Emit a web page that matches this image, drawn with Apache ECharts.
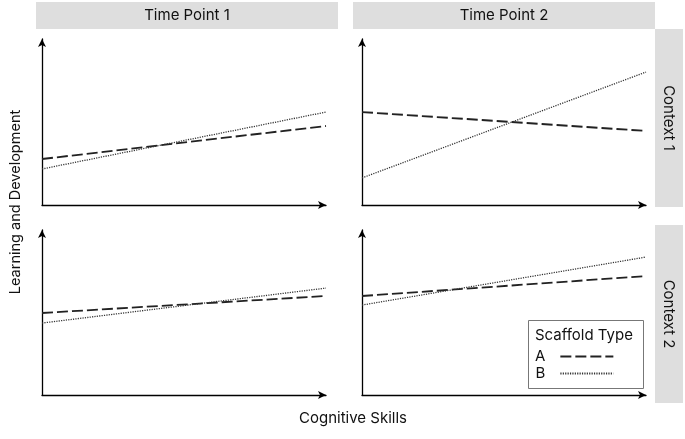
<!DOCTYPE html>
<html>
<head>
<meta charset="utf-8">
<script src="https://cdn.jsdelivr.net/npm/echarts@6/dist/echarts.min.js"></script>
<style>html,body{margin:0;padding:0;background:#fff}#c{width:685px;height:439px}</style>
</head>
<body>
<div id="c"></div>
<script>
// x positions of the line ends (Cognitive Skills, relative scale)
const xEnds = [0, 10];
// Panels: [Time Point 1 / Context 1, Time Point 2 / Context 1, Time Point 1 / Context 2, Time Point 2 / Context 2]
const seriesA = [[2.77, 4.76], [5.60, 4.46], [4.97, 6.00], [6.00, 7.21]];
const seriesB = [[2.17, 5.60], [1.63, 8.01], [4.36, 6.48], [5.45, 8.36]];
const timeLabels = ['Time Point 1', 'Time Point 2'];
const contextLabels = ['Context 1', 'Context 2'];
const legendTitle = 'Scaffold Type';
const xTitle = 'Cognitive Skills';
const yTitle = 'Learning and Development';

const FONT = 'Inter';
const grids = [
  {left: 42, top: 39, width: 284, height: 166},
  {left: 362, top: 39, width: 284, height: 166},
  {left: 42, top: 230, width: 284, height: 165},
  {left: 362, top: 230, width: 284, height: 165}
];
const axisLine = {show: true, symbol: ['none', 'arrow'], symbolSize: [6, 8], lineStyle: {color: '#000', width: 1.3}};
const xAxes = grids.map((g, i) => ({type: 'value', gridIndex: i, min: 0, max: 10, axisLine, axisTick: {show: false}, axisLabel: {show: false}, splitLine: {show: false}}));
const yAxes = grids.map((g, i) => ({type: 'value', gridIndex: i, min: 0, max: 10, axisLine, axisTick: {show: false}, axisLabel: {show: false}, splitLine: {show: false}}));
const series = [];
for (let i = 0; i < 4; i++) {
  series.push({name: 'A', type: 'line', xAxisIndex: i, yAxisIndex: i, symbol: 'none', silent: true,
    data: xEnds.map((x, k) => [x, seriesA[i][k]]),
    itemStyle: {color: '#222'},
    lineStyle: {color: '#222', width: 1.8, type: [11, 4]}});
  series.push({name: 'B', type: 'line', xAxisIndex: i, yAxisIndex: i, symbol: 'none', silent: true,
    data: xEnds.map((x, k) => [x, seriesB[i][k]]),
    itemStyle: {color: '#333'},
    lineStyle: {color: '#333', width: 1.3, type: [1.2, 1.2]}});
}
const strip = '#dedede';
const graphic = [
  {type: 'rect', shape: {x: 36, y: 2, width: 302, height: 27}, style: {fill: strip}},
  {type: 'rect', shape: {x: 353, y: 2, width: 302, height: 27}, style: {fill: strip}},
  {type: 'rect', shape: {x: 655, y: 29, width: 28, height: 178}, style: {fill: strip}},
  {type: 'rect', shape: {x: 655, y: 225, width: 28, height: 178}, style: {fill: strip}},
  {type: 'text', x: 187, y: 15.5, style: {text: timeLabels[0], font: '15px ' + FONT, fill: '#111', align: 'center', verticalAlign: 'middle'}},
  {type: 'text', x: 504, y: 15.5, style: {text: timeLabels[1], font: '15px ' + FONT, fill: '#111', align: 'center', verticalAlign: 'middle'}},
  {type: 'text', x: 669, y: 118, rotation: -Math.PI / 2, style: {text: contextLabels[0], font: '15px ' + FONT, fill: '#111', align: 'center', verticalAlign: 'middle'}},
  {type: 'text', x: 669, y: 314, rotation: -Math.PI / 2, style: {text: contextLabels[1], font: '15px ' + FONT, fill: '#111', align: 'center', verticalAlign: 'middle'}},
  {type: 'text', x: 16, y: 202, rotation: Math.PI / 2, style: {text: yTitle, font: '14.5px ' + FONT, fill: '#111', align: 'center', verticalAlign: 'middle'}},
  {type: 'text', x: 353, y: 418, style: {text: xTitle, font: '15px ' + FONT, fill: '#111', align: 'center', verticalAlign: 'middle'}},
  {type: 'rect', z: 5, shape: {x: 528.5, y: 320.5, width: 115, height: 68}, style: {fill: '#fff', stroke: '#777', lineWidth: 1}},
  {type: 'text', z: 6, x: 535, y: 335, style: {text: legendTitle, font: '15px ' + FONT, fill: '#111', align: 'left', verticalAlign: 'middle'}}
];
const chart = echarts.init(document.getElementById('c'), null, {renderer: 'canvas'});
chart.setOption({
  animation: false,
  backgroundColor: '#fff',
  grid: grids,
  xAxis: xAxes,
  yAxis: yAxes,
  series,
  graphic,
  legend: {
    z: 10, data: ['A', 'B'], orient: 'vertical', left: 530, top: 344, align: 'right',
    itemWidth: 53, itemHeight: 10, itemGap: 2, selectedMode: false,
    itemStyle: {color: 'rgba(0,0,0,0)', borderWidth: 0, opacity: 0},
    formatter: '{n|{name}}',
    textStyle: {fontFamily: FONT, fontSize: 15, color: '#111', rich: {n: {padding: [0, 10, 0, 0], fontFamily: FONT, fontSize: 15, color: '#111'}}}
  }
});
</script>
</body>
</html>
